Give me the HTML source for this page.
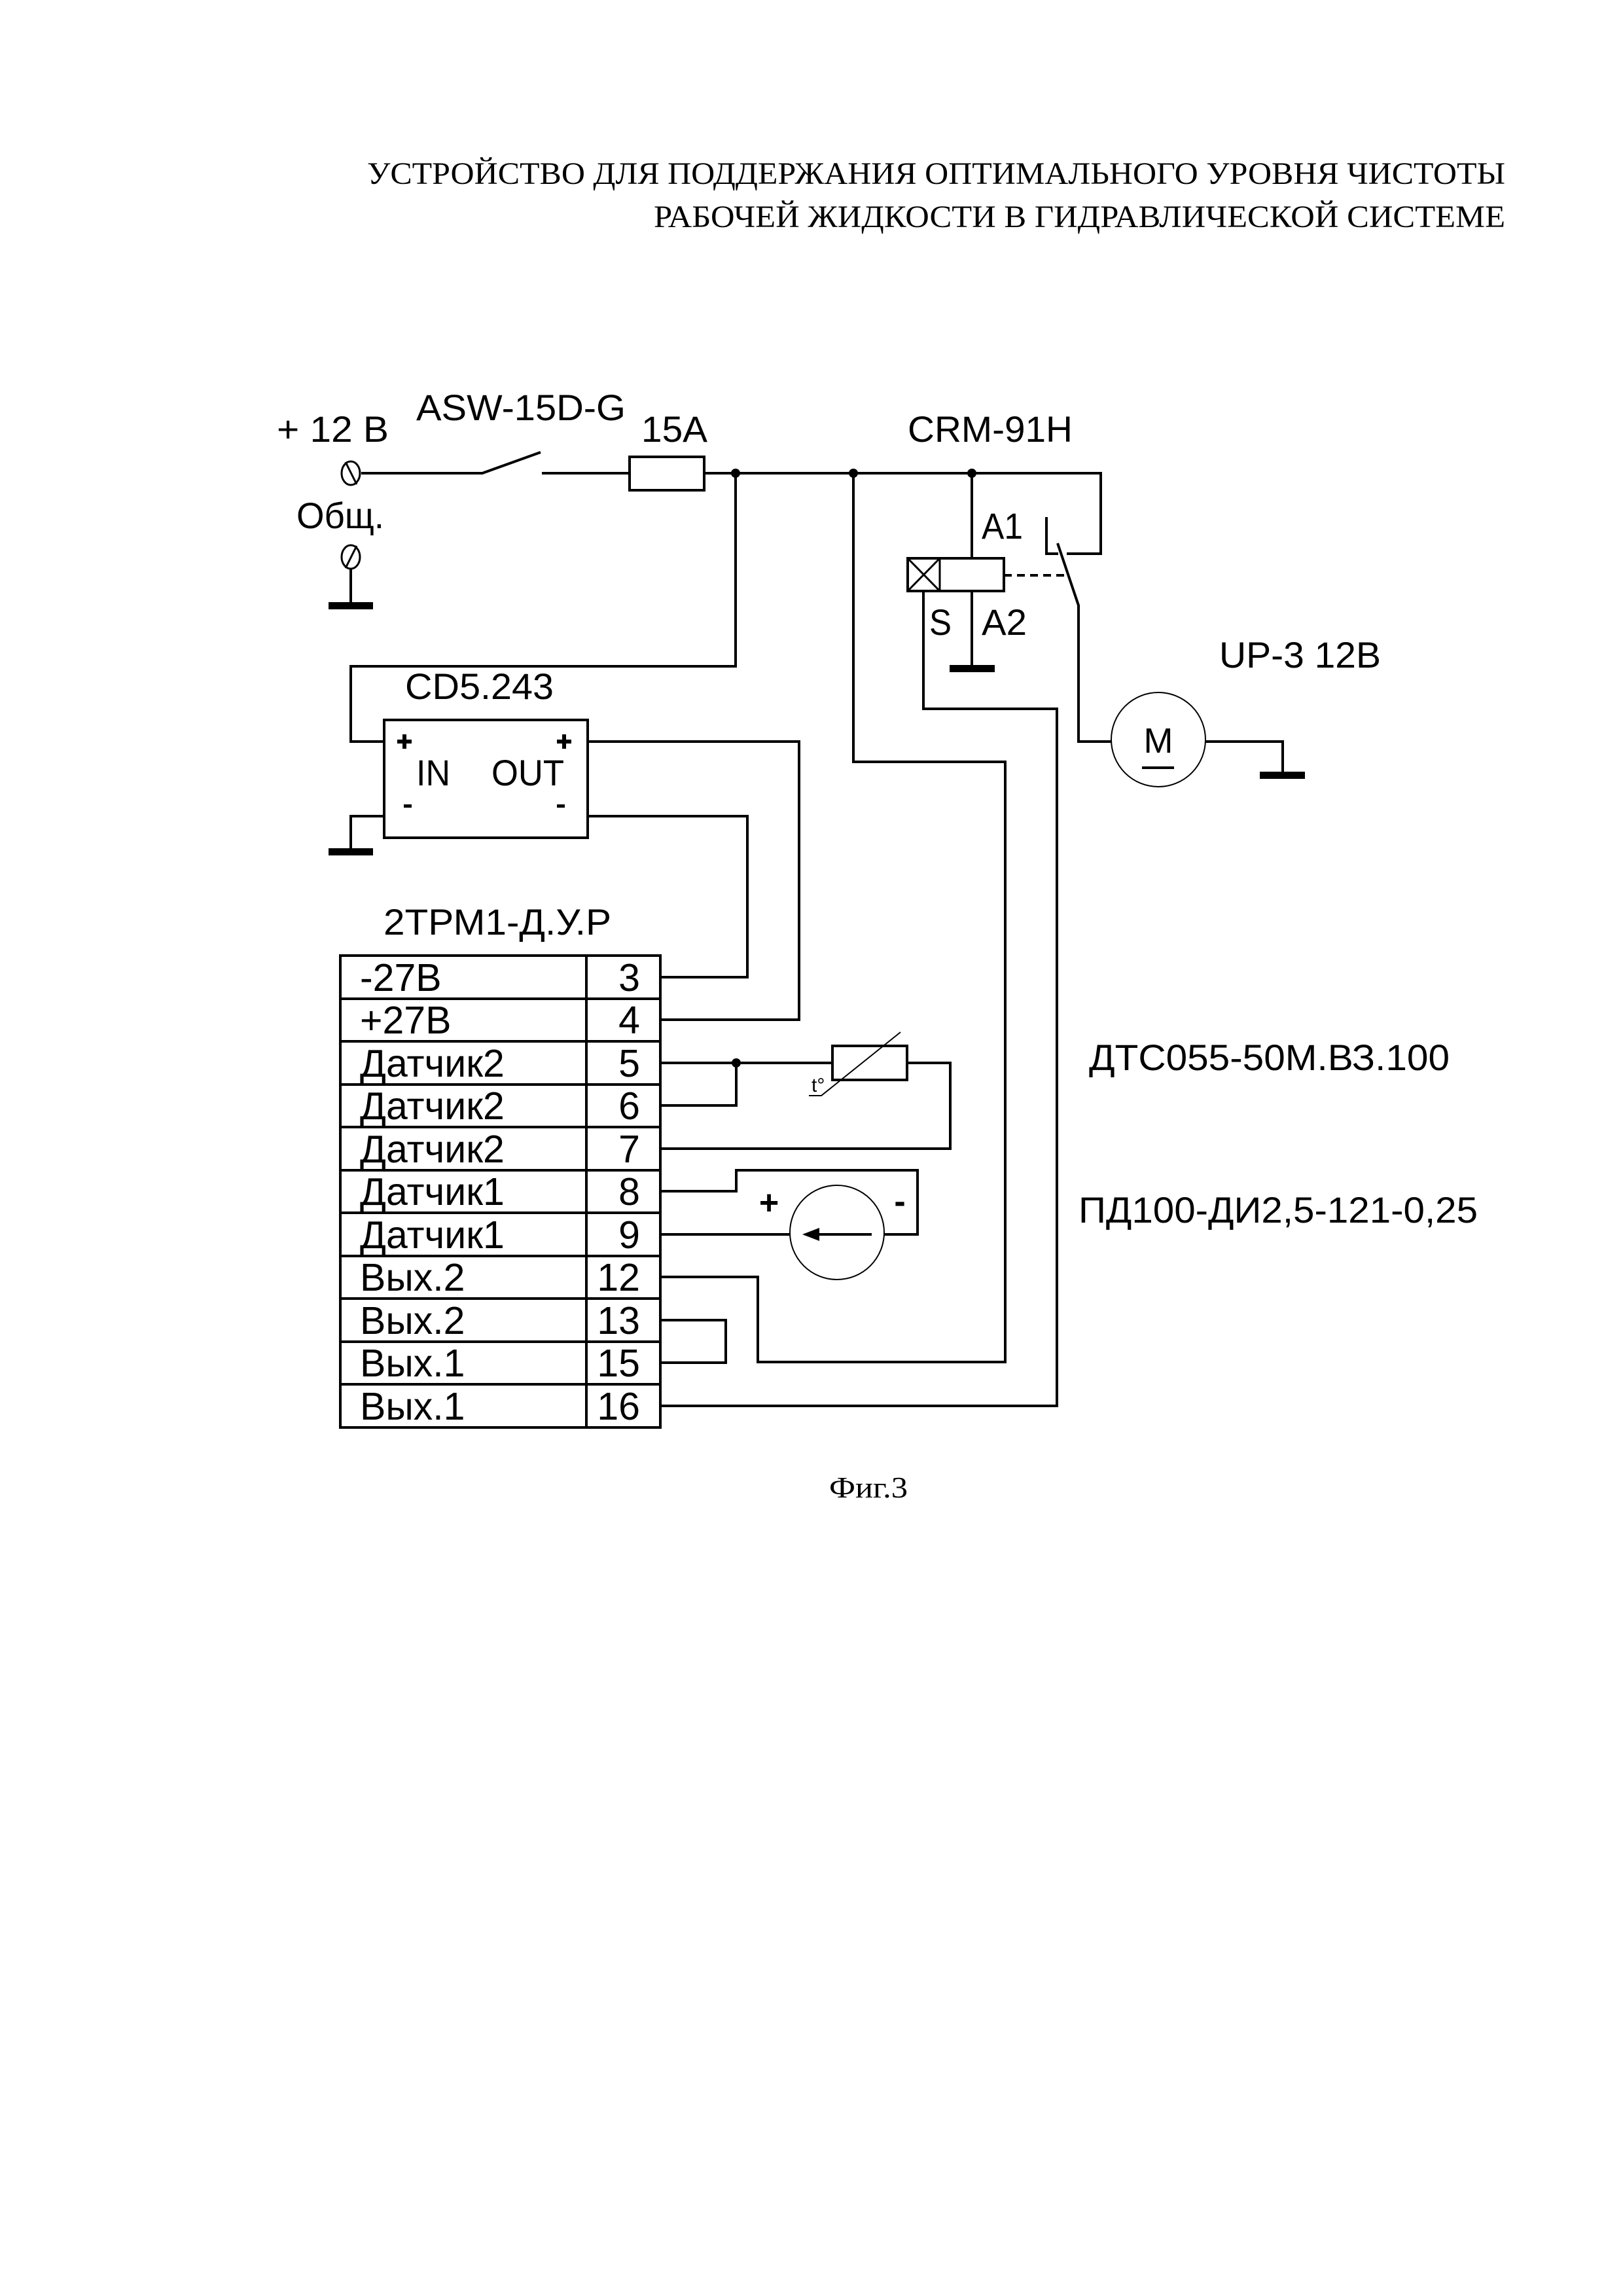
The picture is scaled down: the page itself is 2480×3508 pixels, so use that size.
<!DOCTYPE html>
<html><head><meta charset="utf-8"><style>html,body{margin:0;padding:0;background:#fff}svg{display:block}</style></head>
<body>
<svg width="2480" height="3508" viewBox="0 0 2480 3508" xmlns="http://www.w3.org/2000/svg">
<rect width="2480" height="3508" fill="#fff"/>
<g font-family="Liberation Serif, Noto Serif CJK SC, serif" fill="#000" font-size="48">
<text x="561" y="281" textLength="1739" lengthAdjust="spacingAndGlyphs">УСТРОЙСТВО ДЛЯ ПОДДЕРЖАНИЯ ОПТИМАЛЬНОГО УРОВНЯ ЧИСТОТЫ</text>
<text x="999" y="347" textLength="1301" lengthAdjust="spacingAndGlyphs">РАБОЧЕЙ ЖИДКОСТИ В ГИДРАВЛИЧЕСКОЙ СИСТЕМЕ</text>
<text x="1267" y="2288" font-size="46" textLength="120" lengthAdjust="spacingAndGlyphs">Фиг.3</text>
</g>
<g font-family="Liberation Sans, Noto Sans CJK SC, sans-serif" fill="#000" font-size="56">
<text x="423" y="675" textLength="171" lengthAdjust="spacingAndGlyphs">+ 12 В</text>
<text x="636" y="642" textLength="320" lengthAdjust="spacingAndGlyphs">ASW-15D-G</text>
<text x="980" y="675" textLength="101" lengthAdjust="spacingAndGlyphs">15A</text>
<text x="1387" y="675" textLength="252" lengthAdjust="spacingAndGlyphs">CRM-91H</text>
<text x="453" y="807" textLength="134" lengthAdjust="spacingAndGlyphs">Общ.</text>
<text x="1500" y="823" textLength="63" lengthAdjust="spacingAndGlyphs">A1</text>
<text x="1420" y="970" textLength="34" lengthAdjust="spacingAndGlyphs">S</text>
<text x="1500" y="970" textLength="69" lengthAdjust="spacingAndGlyphs">A2</text>
<text x="619" y="1068" textLength="227" lengthAdjust="spacingAndGlyphs">CD5.243</text>
<text x="636" y="1200" textLength="52" lengthAdjust="spacingAndGlyphs">IN</text>
<text x="751" y="1200" textLength="111" lengthAdjust="spacingAndGlyphs">OUT</text>
<text x="1863" y="1020" textLength="247" lengthAdjust="spacingAndGlyphs">UP-3 12В</text>
<text x="1664" y="1635" textLength="551" lengthAdjust="spacingAndGlyphs">ДТС055-50М.ВЗ.100</text>
<text x="1648" y="1868" textLength="610" lengthAdjust="spacingAndGlyphs">ПД100-ДИ2,5-121-0,25</text>
<text x="586" y="1428" textLength="348" lengthAdjust="spacingAndGlyphs">2ТРМ1-Д.У.Р</text>
<text x="1770" y="1150" text-anchor="middle" font-size="54">M</text>
<text x="1175" y="1855" text-anchor="middle" font-size="52" font-weight="bold">+</text>
<text x="1375" y="1853" text-anchor="middle" font-size="52" font-weight="bold">-</text>
<text x="1240" y="1668" font-size="30">t°</text>
</g>
<g font-family="Liberation Sans, Noto Sans CJK SC, sans-serif" fill="#000" font-size="59">
<text x="550" y="1514">-27В</text><text x="978" y="1514" text-anchor="end">3</text>
<text x="550" y="1579">+27В</text><text x="978" y="1579" text-anchor="end">4</text>
<text x="550" y="1645">Датчик2</text><text x="978" y="1645" text-anchor="end">5</text>
<text x="550" y="1710">Датчик2</text><text x="978" y="1710" text-anchor="end">6</text>
<text x="550" y="1776">Датчик2</text><text x="978" y="1776" text-anchor="end">7</text>
<text x="550" y="1841">Датчик1</text><text x="978" y="1841" text-anchor="end">8</text>
<text x="550" y="1907">Датчик1</text><text x="978" y="1907" text-anchor="end">9</text>
<text x="550" y="1972">Вых.2</text><text x="978" y="1972" text-anchor="end">12</text>
<text x="550" y="2038">Вых.2</text><text x="978" y="2038" text-anchor="end">13</text>
<text x="550" y="2103">Вых.1</text><text x="978" y="2103" text-anchor="end">15</text>
<text x="550" y="2169">Вых.1</text><text x="978" y="2169" text-anchor="end">16</text>
</g>
<g stroke="#000" stroke-width="4" fill="none">
<rect x="520" y="1460" width="489" height="721"/>
<line x1="896" y1="1460" x2="896" y2="2181"/>
<path d="M520 1526H1009M520 1591H1009M520 1657H1009M520 1722H1009M520 1788H1009M520 1853H1009M520 1919H1009M520 1984H1009M520 2050H1009M520 2115H1009"/>
<ellipse cx="536" cy="723" rx="14" ry="18" stroke-width="3"/><line x1="528" y1="706" x2="545" y2="740" stroke-width="3"/>
<ellipse cx="536" cy="851" rx="14" ry="18" stroke-width="3"/><line x1="545" y1="834" x2="528" y2="868" stroke-width="3"/>
<line x1="536" y1="869" x2="536" y2="925"/>
<path d="M552 723H737L826 691M828 723H962M1076 723H1682V846H1630M1617 846H1599V790"/>
<rect x="962" y="698" width="114" height="51"/>
<path d="M1616 830L1648 925V1133H1698"/>
<line x1="1534" y1="879" x2="1630" y2="879" stroke-dasharray="12,8"/>
<rect x="1387" y="853" width="147" height="50"/>
<path d="M1436 853V903M1387 853L1436 903M1436 853L1387 903" stroke-width="3"/>
<path d="M1485 723V853M1485 903V1021"/>
<path d="M1411 903V1083H1615V2148H1009"/>
<path d="M1304 723V1164H1536V2081H1158V1951H1009"/>
<path d="M1124 723V1018H536V1133H587"/>
<rect x="587" y="1100" width="311" height="180"/>
<path d="M898 1133H1221V1558H1009M898 1247H1142V1493H1009M587 1247H536V1301"/>
<path d="M1009 1624H1272M1386 1624H1452V1755H1009M1009 1689H1125V1624"/>
<rect x="1272" y="1598" width="114" height="52"/>
<path d="M1236 1674H1255L1376 1577" stroke-width="2"/>
<path d="M1009 1820H1125V1788H1402V1886H1351M1009 1886H1207"/>
<circle cx="1279" cy="1883" r="72" stroke-width="2"/>
<line x1="1332" y1="1886" x2="1250" y2="1886"/>
<path d="M1009 2017H1109V2082H1009"/>
<circle cx="1770" cy="1130" r="72" stroke-width="2"/>
<line x1="1745" y1="1173" x2="1794" y2="1173"/>
<path d="M1842 1133H1960V1184"/>
</g>
<g fill="#000">
<polygon points="1226,1886 1252,1876 1252,1896"/>
<rect x="502" y="920" width="68" height="11"/>
<rect x="502" y="1296" width="68" height="11"/>
<rect x="1451" y="1016" width="69" height="11"/>
<rect x="1925" y="1179" width="69" height="11"/>
<circle cx="1124" cy="723" r="7"/><circle cx="1304" cy="723" r="7"/><circle cx="1485" cy="723" r="7"/><circle cx="1125" cy="1624" r="7"/>
<rect x="607" y="1130" width="22" height="6"/><rect x="615" y="1122" width="6" height="22"/>
<rect x="851" y="1130" width="22" height="6"/><rect x="859" y="1122" width="6" height="22"/>
<rect x="617" y="1229" width="12" height="5"/><rect x="851" y="1229" width="12" height="5"/>
</g>
</svg>
</body></html>
